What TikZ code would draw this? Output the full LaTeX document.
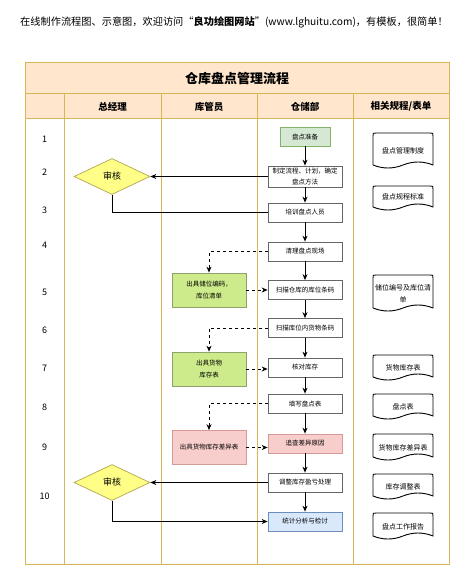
\documentclass[tikz,border=0pt]{standalone}
\usepackage{fontspec}
\setmainfont{Noto Sans CJK SC}
\usetikzlibrary{shapes.geometric,arrows.meta}
\definecolor{tblline}{HTML}{D6B656}
\definecolor{hdrfill}{HTML}{FFE6CC}
\definecolor{chkfill}{HTML}{FFFF88}
\definecolor{chkline}{HTML}{B4A550}
\definecolor{libfill}{HTML}{CDEB8B}
\definecolor{libline}{HTML}{8FA26E}
\definecolor{difffill}{HTML}{F8CECC}
\definecolor{diffline}{HTML}{D49A98}
\definecolor{prepfill}{HTML}{D5E8D4}
\definecolor{prepline}{HTML}{82B366}
\definecolor{statfill}{HTML}{DAE8FC}
\definecolor{statline}{HTML}{6C8EBF}
\definecolor{procline}{HTML}{666666}
\newcommand{\docshape}[3]{%
  \draw[docline] (#1,#3) -- (#1,#2+3) .. controls (#1,#2) .. (#1+3,#2)
    -- (#1+57,#2) .. controls (#1+60,#2) .. (#1+60,#2+3) -- (#1+60,#3)
    .. controls (#1+50,#3-4) and (#1+40,#3-4) .. (#1+30,#3)
    .. controls (#1+20,#3+4) and (#1+10,#3+4) .. (#1,#3) -- cycle;}
\begin{document}
\begin{tikzpicture}[x=1pt,y=-1pt,
    tbl/.style={draw=tblline,line width=1pt},
    proc/.style={draw=procline,fill=white,line width=0.7pt,minimum width=74pt,
      minimum height=19pt,inner sep=0pt,align=center,
      font=\fontsize{6.5}{11}\selectfont},
    lib/.style={draw=libline,fill=libfill,line width=0.7pt,minimum width=74pt,
      minimum height=34pt,inner sep=0pt,align=center,
      font=\fontsize{6.5}{12}\selectfont},
    chk/.style={diamond,draw=chkline,fill=chkfill,line width=0.7pt,
      minimum width=76pt,minimum height=36pt,inner sep=0pt,
      font=\fontsize{9}{10}\selectfont},
    docline/.style={draw=black,line width=0.9pt},
    doctxt/.style={inner sep=0pt,align=center,font=\fontsize{7}{12}\selectfont},
    hdr/.style={font=\fontsize{9.5}{11}\selectfont\bfseries},
    rownum/.style={font=\fontsize{9}{10}\selectfont},
    flow/.style={draw=black,line width=1pt,-{Stealth[length=6pt,width=5pt]}},
    dflow/.style={draw=black,line width=1pt,dash pattern=on 3pt off 3pt,
      -{Stealth[length=6pt,width=5pt]}}]
  \useasboundingbox (0,0) rectangle (474,577);
  \node (note) at (234,22) {\fontsize{10.2}{12}\selectfont
    在线制作流程图、示意图，欢迎访问“\textbf{良功绘图网站}”(www.lghuitu.com)，有模板，很简单！};
  % table
  \fill[hdrfill] (25,63) rectangle (449,119);
  \draw[tbl] (25,63) rectangle (449,564);
  \draw[tbl] (25,94) -- (449,94) (25,119) -- (449,119);
  \draw[tbl] (64,94) -- (64,564) (161,94) -- (161,564)
    (257,94) -- (257,564) (353,94) -- (353,564);
  \node[font=\fontsize{13}{15}\selectfont\bfseries] (title) at (237,79) {仓库盘点管理流程};
  \draw
    (112.5,106.5) node[hdr] (h1){总经理}
    (209,106.5) node[hdr] (h2){库管员}
    (305,106.5) node[hdr] (h3){仓储部}
    (401,106.5) node[hdr] (h4){相关规程/表单};
  \draw
    (44.5,139) node[rownum] (r1){1}
    (44.5,172) node[rownum] (r2){2}
    (44.5,210) node[rownum] (r3){3}
    (44.5,245) node[rownum] (r4){4}
    (44.5,292) node[rownum] (r5){5}
    (44.5,330) node[rownum] (r6){6}
    (44.5,368) node[rownum] (r7){7}
    (44.5,407) node[rownum] (r8){8}
    (44.5,447) node[rownum] (r9){9}
    (44.5,496) node[rownum] (r10){10};
  % steps
  \node[proc,fill=prepfill,draw=prepline,minimum width=50pt] (prep) at (305,136.5) {盘点准备};
  \node[proc,minimum height=21pt] (plan) at (305,176.5) {制定流程、计划，确定\\盘点方法};
  \node[proc] (train) at (305,212.5) {培训盘点人员};
  \node[proc] (clean) at (305,251.5) {清理盘点现场};
  \node[proc] (scanbin) at (305,290) {扫描仓库的库位条码};
  \node[proc] (scangoods) at (305,328) {扫描库位内货物条码};
  \node[proc] (check) at (305,367.5) {核对库存};
  \node[proc] (fillin) at (305,403.5) {填写盘点表};
  \node[proc,fill=difffill,draw=diffline] (trace) at (305,443.5) {追查差异原因};
  \node[proc] (adjust) at (305,482.5) {调整库存盈亏处理};
  \node[proc,fill=statfill,draw=statline] (stat) at (305,521.5) {统计分析与检讨};
  \node[chk] (audit1) at (112,176.5) {审核};
  \node[chk] (audit2) at (112,482.5) {审核};
  \node[lib] (binlist) at (209,290) {出具储位编码，\\库位清单};
  \node[lib] (stocklist) at (209,369) {出具货物\\库存表};
  \node[lib,fill=difffill,draw=diffline] (difflist) at (209,447.5) {出具货物库存差异表};
  % documents
  \docshape{373}{133}{165}
  \docshape{373}{186}{207}
  \docshape{373}{275}{308}
  \docshape{373}{355}{377}
  \docshape{373}{394}{416}
  \docshape{373}{434}{457}
  \docshape{373}{474}{496}
  \docshape{373}{513}{536}
  \node[doctxt] (d1) at (403,151) {盘点管理制度};
  \node[doctxt] (d2) at (403,197) {盘点规程标准};
  \node[doctxt] (d3) at (403,294) {储位编号及库位清\\单};
  \node[doctxt] (d4) at (403,367.5) {货物库存表};
  \node[doctxt] (d5) at (403,407) {盘点表};
  \node[doctxt] (d6) at (403,447.5) {货物库存差异表};
  \node[doctxt] (d7) at (403,487) {库存调整表};
  \node[doctxt] (d8) at (403,526.5) {盘点工作报告};
  \begin{scope}[flow]
    \draw (prep) -- (plan);
    \draw (plan) -- (train);
    \draw (train) -- (clean);
    \draw (clean) -- (scanbin);
    \draw (scanbin) -- (scangoods);
    \draw (scangoods) -- (check);
    \draw (check) -- (fillin);
    \draw (fillin) -- (trace);
    \draw (trace) -- (adjust);
    \draw (adjust) -- (stat);
    \draw (plan.west) -- (audit1.east);
    \draw[-] (audit1.south) |- (train.west);
    \draw (adjust.west) -- (audit2.east);
    \draw (audit2.south) |- (stat.west);
  \end{scope}
  \begin{scope}[dflow]
    \draw (clean.west) -| (binlist.north);
    \draw (binlist.east) -- (binlist.east -| scanbin.west);
    \draw (scangoods.west) -| (stocklist.north);
    \draw (stocklist.east) -- (stocklist.east -| check.west);
    \draw (fillin.west) -| (difflist.north);
    \draw (difflist.east) -- (difflist.east -| trace.west);
  \end{scope}
\end{tikzpicture}
\end{document}
